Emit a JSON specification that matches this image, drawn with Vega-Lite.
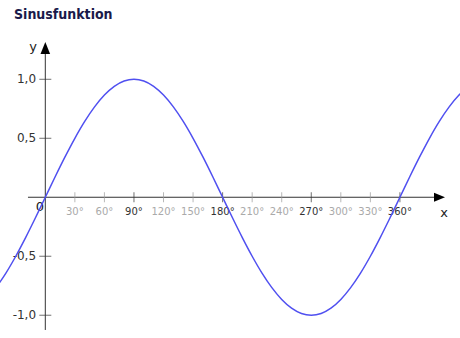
{
  "$schema": "https://vega.github.io/schema/vega-lite/v6.json",
  "width": 460,
  "height": 338,
  "autosize": {"type": "none"},
  "padding": 0,
  "background": "white",
  "config": {"view": {"stroke": null}},
  "title": {"text": "Sinusfunktion", "anchor": "start", "frame": "group", "orient": "top", "offset": -22, "dx": 14, "fontSize": 14, "font": "DejaVu Sans Condensed", "fontWeight": "bold", "color": "#1a1a4a"},
  "datasets": {
    "curve": [
      {"deg": -50, "v": -0.766}, {"deg": -40, "v": -0.643}, {"deg": -30, "v": -0.5}, {"deg": -20, "v": -0.342}, {"deg": -10, "v": -0.174},
      {"deg": 0, "v": 0}, {"deg": 10, "v": 0.174}, {"deg": 20, "v": 0.342}, {"deg": 30, "v": 0.5}, {"deg": 40, "v": 0.643},
      {"deg": 50, "v": 0.766}, {"deg": 60, "v": 0.866}, {"deg": 70, "v": 0.94}, {"deg": 80, "v": 0.985}, {"deg": 90, "v": 1},
      {"deg": 100, "v": 0.985}, {"deg": 110, "v": 0.94}, {"deg": 120, "v": 0.866}, {"deg": 130, "v": 0.766}, {"deg": 140, "v": 0.643},
      {"deg": 150, "v": 0.5}, {"deg": 160, "v": 0.342}, {"deg": 170, "v": 0.174}, {"deg": 180, "v": 0}, {"deg": 190, "v": -0.174},
      {"deg": 200, "v": -0.342}, {"deg": 210, "v": -0.5}, {"deg": 220, "v": -0.643}, {"deg": 230, "v": -0.766}, {"deg": 240, "v": -0.866},
      {"deg": 250, "v": -0.94}, {"deg": 260, "v": -0.985}, {"deg": 270, "v": -1}, {"deg": 280, "v": -0.985}, {"deg": 290, "v": -0.94},
      {"deg": 300, "v": -0.866}, {"deg": 310, "v": -0.766}, {"deg": 320, "v": -0.643}, {"deg": 330, "v": -0.5}, {"deg": 340, "v": -0.342},
      {"deg": 350, "v": -0.174}, {"deg": 360, "v": 0}, {"deg": 370, "v": 0.174}, {"deg": 380, "v": 0.342}, {"deg": 390, "v": 0.5},
      {"deg": 400, "v": 0.643}, {"deg": 410, "v": 0.766}, {"deg": 420, "v": 0.866}, {"deg": 430, "v": 0.94}
    ],
    "xticks": [
      {"deg": 30, "label": "30°"}, {"deg": 60, "label": "60°"}, {"deg": 90, "label": "90°"}, {"deg": 120, "label": "120°"},
      {"deg": 150, "label": "150°"}, {"deg": 180, "label": "180°"}, {"deg": 210, "label": "210°"}, {"deg": 240, "label": "240°"},
      {"deg": 270, "label": "270°"}, {"deg": 300, "label": "300°"}, {"deg": 330, "label": "330°"}, {"deg": 360, "label": "360°"}
    ],
    "yticks": [
      {"v": 1, "label": "1,0"}, {"v": 0.5, "label": "0,5"}, {"v": -0.5, "label": "-0,5"}, {"v": -1, "label": "-1,0"}
    ],
    "axislines": [
      {"deg": -17.6, "deg_end": 394.6, "v": 0, "v_end": 0},
      {"deg": 0, "deg_end": 0, "v": 1.214, "v_end": -1.125}
    ],
    "arrows": [
      {"deg": 400.2, "v": 0, "dir": "x"},
      {"deg": 0, "v": 1.265, "dir": "y"}
    ],
    "names": [
      {"deg": -5.4, "v": -0.082, "label": "0"},
      {"deg": 404.8, "v": -0.133, "label": "x"},
      {"deg": -12.5, "v": 1.274, "label": "y"}
    ]
  },
  "layer": [
    {
      "data": {"name": "axislines"},
      "mark": {"type": "rule", "color": "#333333", "strokeWidth": 1},
      "encoding": {
        "x": {"field": "deg", "type": "quantitative", "scale": {"domain": [-46, 421], "nice": false, "zero": false}, "axis": null},
        "x2": {"field": "deg_end"},
        "y": {"field": "v", "type": "quantitative", "scale": {"domain": [-1.193, 1.672], "nice": false, "zero": false}, "axis": null},
        "y2": {"field": "v_end"}
      }
    },
    {
      "data": {"name": "arrows"},
      "transform": [{"filter": "datum.dir === 'x'"}],
      "mark": {"type": "point", "shape": "M-1,-0.8L1,0L-1,0.8Z", "size": 121, "filled": true, "color": "#000000", "opacity": 1},
      "encoding": {
        "x": {"field": "deg", "type": "quantitative", "scale": {"domain": [-46, 421], "nice": false, "zero": false}, "axis": null},
        "y": {"field": "v", "type": "quantitative", "scale": {"domain": [-1.193, 1.672], "nice": false, "zero": false}, "axis": null}
      }
    },
    {
      "data": {"name": "arrows"},
      "transform": [{"filter": "datum.dir === 'y'"}],
      "mark": {"type": "point", "shape": "M-0.8,1L0,-1L0.8,1Z", "size": 144, "filled": true, "color": "#000000", "opacity": 1},
      "encoding": {
        "x": {"field": "deg", "type": "quantitative", "scale": {"domain": [-46, 421], "nice": false, "zero": false}, "axis": null},
        "y": {"field": "v", "type": "quantitative", "scale": {"domain": [-1.193, 1.672], "nice": false, "zero": false}, "axis": null}
      }
    },
    {
      "data": {"name": "xticks"},
      "mark": {"type": "tick", "orient": "vertical", "size": 10, "thickness": 1},
      "encoding": {
        "x": {"field": "deg", "type": "quantitative", "scale": {"domain": [-46, 421], "nice": false, "zero": false}, "axis": null},
        "y": {"datum": 0, "scale": {"domain": [-1.193, 1.672], "nice": false, "zero": false}, "axis": null},
        "color": {"condition": {"test": "datum.deg % 90 === 0", "value": "#333333"}, "value": "#9a9a9a"}
      }
    },
    {
      "data": {"name": "xticks"},
      "mark": {"type": "text", "font": "DejaVu Sans", "fontSize": 10, "align": "center", "baseline": "middle"},
      "encoding": {
        "x": {"field": "deg", "type": "quantitative", "scale": {"domain": [-46, 421], "nice": false, "zero": false}, "axis": null},
        "y": {"datum": -0.125, "scale": {"domain": [-1.193, 1.672], "nice": false, "zero": false}, "axis": null},
        "text": {"field": "label"},
        "color": {"condition": {"test": "datum.deg % 90 === 0", "value": "#333333"}, "value": "#aaaaaa"}
      }
    },
    {
      "data": {"name": "yticks"},
      "mark": {"type": "tick", "orient": "horizontal", "size": 12, "thickness": 1, "color": "#333333"},
      "encoding": {
        "x": {"datum": 0, "scale": {"domain": [-46, 421], "nice": false, "zero": false}, "axis": null},
        "y": {"field": "v", "type": "quantitative", "scale": {"domain": [-1.193, 1.672], "nice": false, "zero": false}, "axis": null}
      }
    },
    {
      "data": {"name": "yticks"},
      "mark": {"type": "text", "font": "DejaVu Sans", "fontSize": 12, "align": "right", "baseline": "middle", "color": "#333333"},
      "encoding": {
        "x": {"datum": -9.4, "scale": {"domain": [-46, 421], "nice": false, "zero": false}, "axis": null},
        "y": {"field": "v", "type": "quantitative", "scale": {"domain": [-1.193, 1.672], "nice": false, "zero": false}, "axis": null},
        "text": {"field": "label"}
      }
    },
    {
      "data": {"name": "names"},
      "mark": {"type": "text", "font": "DejaVu Sans", "fontSize": 13, "align": "center", "baseline": "middle", "color": "#222222"},
      "encoding": {
        "x": {"field": "deg", "type": "quantitative", "scale": {"domain": [-46, 421], "nice": false, "zero": false}, "axis": null},
        "y": {"field": "v", "type": "quantitative", "scale": {"domain": [-1.193, 1.672], "nice": false, "zero": false}, "axis": null},
        "text": {"field": "label"}
      }
    },
    {
      "data": {"name": "curve"},
      "mark": {"type": "line", "clip": true, "interpolate": "monotone", "color": "#5050f0", "strokeWidth": 1.5},
      "encoding": {
        "x": {"field": "deg", "type": "quantitative", "scale": {"domain": [-46, 421], "nice": false, "zero": false}, "axis": null},
        "y": {"field": "v", "type": "quantitative", "scale": {"domain": [-1.193, 1.672], "nice": false, "zero": false}, "axis": null}
      }
    }
  ]
}
